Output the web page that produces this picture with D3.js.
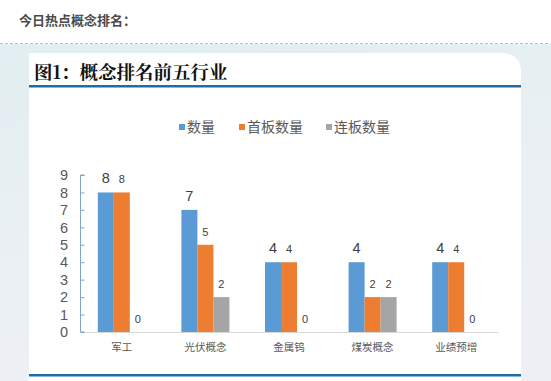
<!DOCTYPE html>
<html><head><meta charset="utf-8">
<script src="https://cdn.jsdelivr.net/npm/d3@7/dist/d3.min.js"></script>
<style>html,body{margin:0;padding:0;background:#fff;overflow:hidden}</style>
</head><body>
<svg id="c" width="551" height="381"></svg>
<script>
const categories = ["军工", "光伏概念", "金属钨", "煤炭概念", "业绩预增"];
const seriesNames = ["数量", "首板数量", "连板数量"];
const countValues = [8, 7, 4, 4, 4];
const firstBoardValues = [8, 5, 4, 2, 4];
const multiBoardValues = [0, 2, 0, 2, 0];
const yTicks = [0, 1, 2, 3, 4, 5, 6, 7, 8, 9];
const colors = ["#5b9bd5", "#ed7d31", "#a5a5a5"];

const svg = d3.select("#c");
const font = "'Noto Sans CJK SC', 'Noto Sans', sans-serif";
const numFont = "'Liberation Sans', Arial, sans-serif";

// background
const defs = svg.append("defs");
const g1 = defs.append("linearGradient").attr("id", "bg").attr("x1", 0).attr("y1", 0).attr("x2", 0.3).attr("y2", 1);
g1.append("stop").attr("offset", "0%").attr("stop-color", "#e2eef1");
g1.append("stop").attr("offset", "60%").attr("stop-color", "#eaf0f4");
g1.append("stop").attr("offset", "100%").attr("stop-color", "#eef0f6");
svg.append("rect").attr("x", 0).attr("y", 44).attr("width", 551).attr("height", 337).attr("fill", "url(#bg)");

svg.append("text").attr("x", 19).attr("y", 25).attr("font-family", font).attr("font-weight", "bold")
  .attr("font-size", 13).attr("fill", "#4a4a4a").text("今日热点概念排名：");
svg.append("line").attr("x1", 0).attr("x2", 551).attr("y1", 43.5).attr("y2", 43.5)
  .attr("stroke", "#bdbdbd").attr("stroke-dasharray", "3,2");

// white panel with rounded top-right corner
const px0 = 29, px1 = 521, py0 = 53, r = 20;
svg.append("path").attr("d", `M${px0},${py0} H${px1 - r} Q${px1},${py0} ${px1},${py0 + r} V381 H${px0} Z`).attr("fill", "#fff");

svg.append("text").attr("x", 34).attr("y", 79).attr("font-family", "'Noto Serif CJK SC','Noto Sans CJK SC',serif")
  .attr("font-weight", "bold").attr("font-size", 18.5).attr("fill", "#111").text("图1：概念排名前五行业");
svg.append("rect").attr("x", px0).attr("y", 85).attr("width", px1 - px0).attr("height", 2.5).attr("fill", "#1c6ea4");
svg.append("rect").attr("x", px0).attr("y", 374).attr("width", px1 - px0).attr("height", 2.5).attr("fill", "#1c6ea4");

// chart
const x0 = d3.scaleBand().domain(categories).range([80, 498]).paddingInner(0).paddingOuter(0);
const y = d3.scaleLinear().domain([0, 9]).range([332, 175]);
const barW = 16;
const x1 = d3.scaleBand().domain(seriesNames).range([0, barW * 3]);

const data = categories.map((c, i) => ({ c, vals: [countValues[i], firstBoardValues[i], multiBoardValues[i]] }));

// x axis line
svg.append("line").attr("x1", 80).attr("x2", 498).attr("y1", 332.5).attr("y2", 332.5).attr("stroke", "#d9d9d9");

// y axis
const yAxis = d3.axisRight(y).tickValues(yTicks).tickSize(4).tickFormat("");
const ya = svg.append("g").attr("transform", "translate(80.5,0)").call(yAxis);
ya.select(".domain").attr("stroke", "#7ea6c8").attr("d", `M4,${y(9)}H0V${y(0)}H4`);
ya.selectAll(".tick line").attr("stroke", "#7ea6c8");
svg.selectAll(".ylab").data(yTicks).enter().append("text")
  .attr("x", 68).attr("y", d => y(d)).attr("dy", "0.36em").attr("text-anchor", "end")
  .attr("font-family", numFont).attr("font-size", 14.5).attr("fill", "#595959").text(d => d);

// bars
const groups = svg.selectAll(".grp").data(data).enter().append("g")
  .attr("transform", d => `translate(${x0(d.c) + x0.bandwidth() / 2 - barW * 1.5},0)`);
groups.selectAll("rect").data(d => d.vals.map((v, k) => ({ v, k }))).enter().append("rect")
  .attr("x", d => x1(seriesNames[d.k])).attr("width", barW)
  .attr("y", d => y(d.v)).attr("height", d => y(0) - y(d.v)).attr("fill", d => colors[d.k]);
groups.selectAll("text").data(d => d.vals.map((v, k) => ({ v, k }))).enter().append("text")
  .attr("x", d => x1(seriesNames[d.k]) + barW / 2).attr("y", d => y(d.v) - 9)
  .attr("text-anchor", "middle").attr("font-family", numFont)
  .attr("font-size", d => d.k === 0 ? 14.5 : 11).attr("fill", "#404040").text(d => d.v);

// x labels
svg.selectAll(".xlab").data(categories).enter().append("text")
  .attr("x", d => x0(d) + x0.bandwidth() / 2).attr("y", 351).attr("text-anchor", "middle")
  .attr("font-family", font).attr("font-size", 10.5).attr("fill", "#595959").text(d => d);

// legend
const legX = [179, 239, 326];
const leg = svg.selectAll(".leg").data(seriesNames).enter().append("g")
  .attr("transform", (d, i) => `translate(${legX[i]},127)`);
leg.append("rect").attr("x", 0).attr("y", -3).attr("width", 6).attr("height", 6).attr("fill", (d, i) => colors[i]);
leg.append("text").attr("x", 8).attr("y", 0).attr("dy", "0.36em").attr("font-family", font)
  .attr("font-size", 14).attr("fill", "#595959").text(d => d);
</script>
</body></html>
